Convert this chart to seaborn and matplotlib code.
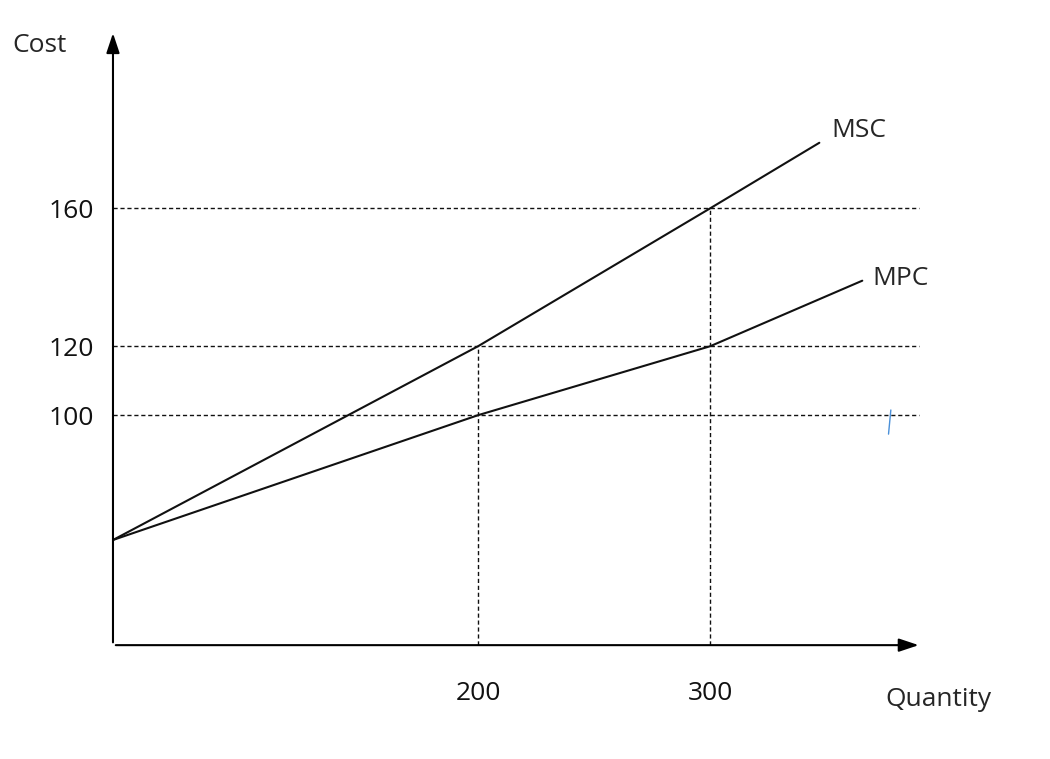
import matplotlib
matplotlib.use("Agg")
import matplotlib.pyplot as plt
import seaborn as sns
import pandas as pd

sns.set_style("white")
plt.rcParams['font.family'] = ['Open Sans', 'DejaVu Sans']

x0, y0 = 42.7, 63.8
msc_x = [x0, 200, 300, 347]
msc_y = [y0, 120, 160, 179]
mpc_x = [x0, 200, 300, 365.5]
mpc_y = [y0, 100, 120, 139]
h_levels = [160, 120, 100]
v_levels = [(200, 120), (300, 160)]
xticks = [200, 300]

fig = plt.figure(figsize=(10.5, 7.59), dpi=100)
ax = fig.add_axes([0.1076, 0.15, 0.77, 0.81])
xmin, xmax = x0, 391
ymin, ymax = 33.3, 211.6

df = pd.concat([pd.DataFrame({"q": msc_x, "c": msc_y, "s": "MSC"}),
                pd.DataFrame({"q": mpc_x, "c": mpc_y, "s": "MPC"})])
sns.lineplot(data=df, x="q", y="c", units="s", estimator=None, color="#111111", lw=1.5, ax=ax, sort=False)

for h in h_levels:
    ax.plot([xmin, 390], [h, h], ls=(0, (3, 2)), color="#111111", lw=1)
for vx, vy in v_levels:
    ax.plot([vx, vx], [ymin, vy], ls=(0, (3, 2)), color="#111111", lw=1)

ax.set_xlim(xmin, xmax)
ax.set_ylim(ymin, ymax)
for s in ax.spines.values():
    s.set_visible(False)
ax.annotate("", xy=(xmax, ymin), xytext=(xmin, ymin),
            arrowprops=dict(arrowstyle="-|>,head_width=0.4,head_length=1.2", color="black", lw=1.5),
            annotation_clip=False)
ax.annotate("", xy=(xmin, ymax), xytext=(xmin, ymin),
            arrowprops=dict(arrowstyle="-|>,head_width=0.4,head_length=1.2", color="black", lw=1.5),
            annotation_clip=False)

ax.set_xticks(xticks)
ax.set_xticklabels([str(t) for t in xticks], fontsize=19)
ax.set_yticks(h_levels)
ax.set_yticklabels([str(t) for t in h_levels], fontsize=19)
ax.tick_params(length=0, labelcolor="#111111")
ax.tick_params(axis='x', pad=26)
ax.tick_params(axis='y', pad=14)
ax.set_xlabel(""); ax.set_ylabel("")

fig.text(40/1050, 1-45/759, "Cost", fontsize=19, ha="center", va="center")
fig.text(938/1050, 1-700/759, "Quantity", fontsize=19, ha="center", va="center")
ax.text(352, 182.6, "MSC", fontsize=19, ha="left", va="center")
ax.text(370, 139.7, "MPC", fontsize=19, ha="left", va="center")
ax.plot([376.8, 377.8], [94.5, 101.5], color="#4a90d9", lw=1)

fig.savefig("out.png", dpi=100)
